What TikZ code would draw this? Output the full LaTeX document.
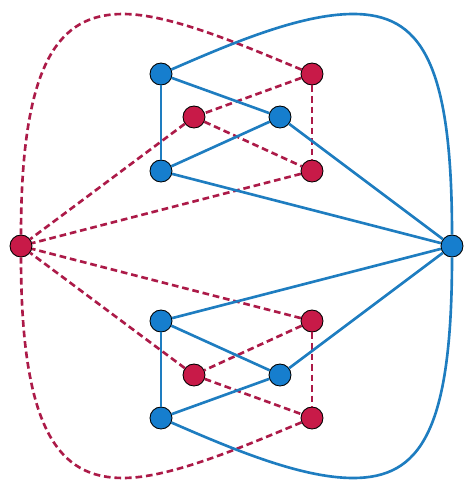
\documentclass[tikz,border=0pt]{standalone}
\usepackage{tikz}
\definecolor{vblue}{RGB}{22,126,206}
\definecolor{eblue}{RGB}{30,125,192}
\definecolor{vred}{RGB}{200,26,72}
\definecolor{ered}{RGB}{172,26,72}
\begin{document}
\begin{tikzpicture}
[bluenode/.style={circle, draw=black, line width=0.5pt, fill=vblue, minimum size=4.4mm, inner sep=0pt},
 rednode/.style={circle, draw=black, line width=0.5pt, fill=vred, minimum size=4.4mm, inner sep=0pt},
 blueedge/.style={draw=eblue, line width=1.5pt},
 rededge/.style={draw=ered, line width=1.5pt, dash pattern=on 3.8pt off 2.2pt}]
\useasboundingbox (0,-4.94) rectangle (9.48,4.92);
\node[rednode]	(left)	at (0.42,0)	{};
\node[bluenode]	(right)	at (9.04,0)	{};
% upper half
\node[bluenode]	(ub1)	at (3.22,3.44)	{};
\node[rednode]	(ur1)	at (6.24,3.44)	{};
\node[rednode]	(ur2)	at (3.88,2.58)	{};
\node[bluenode]	(ub2)	at (5.60,2.58)	{};
\node[bluenode]	(ub3)	at (3.22,1.50)	{};
\node[rednode]	(ur3)	at (6.24,1.50)	{};
% lower half
\node[bluenode]	(lb1)	at (3.22,-1.50)	{};
\node[rednode]	(lr1)	at (6.24,-1.50)	{};
\node[rednode]	(lr2)	at (3.88,-2.58)	{};
\node[bluenode]	(lb2)	at (5.60,-2.58)	{};
\node[bluenode]	(lb3)	at (3.22,-3.44)	{};
\node[rednode]	(lr3)	at (6.24,-3.44)	{};
% red edges
\draw[rededge] (ur1) -- (ur3);
\draw[rededge] (ur1) -- (ur2);
\draw[rededge] (ur2) -- (ur3);
\draw[rededge] (ur2) -- (left);
\draw[rededge] (ur3) -- (left);
\draw[rededge] (ur1) .. controls (4.80,4.04) and (3.40,4.64) .. (2.46,4.64)
  .. controls (1.20,4.64) and (0.42,3.72) .. (left);
\draw[rededge] (lr1) -- (lr3);
\draw[rededge] (lr1) -- (lr2);
\draw[rededge] (lr2) -- (lr3);
\draw[rededge] (lr1) -- (left);
\draw[rededge] (lr2) -- (left);
\draw[rededge] (lr3) .. controls (4.80,-4.04) and (3.40,-4.64) .. (2.46,-4.64)
  .. controls (1.20,-4.64) and (0.42,-3.72) .. (left);
% blue edges
\draw[blueedge] (ub1) -- (ub3);
\draw[blueedge] (ub1) -- (ub2);
\draw[blueedge] (ub3) -- (ub2);
\draw[blueedge] (ub2) -- (right);
\draw[blueedge] (ub3) -- (right);
\draw[blueedge] (ub1) .. controls (4.60,4.04) and (6.00,4.64) .. (7.06,4.64)
  .. controls (8.40,4.64) and (9.04,3.72) .. (right);
\draw[blueedge] (lb1) -- (lb3);
\draw[blueedge] (lb1) -- (lb2);
\draw[blueedge] (lb3) -- (lb2);
\draw[blueedge] (lb1) -- (right);
\draw[blueedge] (lb2) -- (right);
\draw[blueedge] (lb3) .. controls (4.60,-4.04) and (6.00,-4.64) .. (7.06,-4.64)
  .. controls (8.40,-4.64) and (9.04,-3.72) .. (right);
\end{tikzpicture}
\end{document}
